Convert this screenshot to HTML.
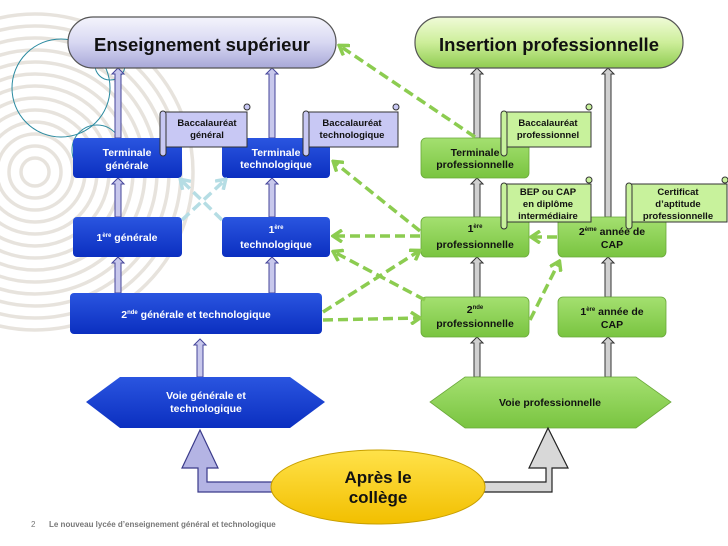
<!DOCTYPE html>
<html><head><meta charset="utf-8"><style>
html,body{margin:0;padding:0;background:#fff;}
svg{display:block;}
text{font-family:"Liberation Sans",sans-serif;font-weight:bold;}
</style></head><body>
<svg width="728" height="546" viewBox="0 0 728 546" xmlns="http://www.w3.org/2000/svg">
<defs>
<linearGradient id="pill1" x1="0" y1="0" x2="0" y2="1"><stop offset="0" stop-color="#f4f4fc"/><stop offset="0.5" stop-color="#d8d8f2"/><stop offset="1" stop-color="#a8a8d8"/></linearGradient>
<linearGradient id="pill2" x1="0" y1="0" x2="0" y2="1"><stop offset="0" stop-color="#f0fbd8"/><stop offset="0.5" stop-color="#cdee9a"/><stop offset="1" stop-color="#8fcc50"/></linearGradient>
<linearGradient id="blue" x1="0" y1="0" x2="0" y2="1"><stop offset="0" stop-color="#2a55e0"/><stop offset="1" stop-color="#0b2fc0"/></linearGradient>
<linearGradient id="green" x1="0" y1="0" x2="0" y2="1"><stop offset="0" stop-color="#a4e070"/><stop offset="1" stop-color="#79c440"/></linearGradient>
<linearGradient id="yel" x1="0" y1="0" x2="0" y2="1"><stop offset="0" stop-color="#ffe24a"/><stop offset="1" stop-color="#f2bf00"/></linearGradient>
<marker id="ag" markerWidth="12" markerHeight="14" refX="9" refY="7" orient="auto" markerUnits="userSpaceOnUse"><path d="M1,1 L10,7 L1,13" fill="none" stroke="#8ccc50" stroke-width="3.5"/></marker>
<marker id="ab" markerWidth="12" markerHeight="14" refX="9" refY="7" orient="auto" markerUnits="userSpaceOnUse"><path d="M1,1 L10,7 L1,13" fill="none" stroke="#b5dde4" stroke-width="3.5"/></marker>
</defs>

<!-- background circles -->
<g fill="none" stroke="#e2ddd5" stroke-width="3.5" opacity="0.8">
<circle cx="35" cy="172" r="14"/><circle cx="35" cy="172" r="26"/><circle cx="35" cy="172" r="38"/><circle cx="35" cy="172" r="50"/><circle cx="35" cy="172" r="62"/><circle cx="35" cy="172" r="74"/><circle cx="35" cy="172" r="86"/><circle cx="35" cy="172" r="98"/><circle cx="35" cy="172" r="110"/><circle cx="35" cy="172" r="122"/><circle cx="35" cy="172" r="134"/><circle cx="35" cy="172" r="146"/><circle cx="35" cy="172" r="158"/>
</g>
<g fill="none" stroke="#2a8aa0" stroke-width="1">
<circle cx="61" cy="88" r="49"/><circle cx="97" cy="150" r="25"/><circle cx="110" cy="65" r="15"/>
</g>

<!-- thin vertical arrows -->
<g stroke="#44449a" stroke-width="1">
<path d="M115,138 V74 H112 L118,68 L124,74 H121 V138 Z" fill="#c8c8ec"/>
<path d="M269,138 V74 H266 L272,68 L278,74 H275 V138 Z" fill="#c8c8ec"/>
<path d="M115,217 V184 H112 L118,178 L124,184 H121 V217 Z" fill="#c8c8ec"/>
<path d="M269,217 V184 H266 L272,178 L278,184 H275 V217 Z" fill="#c8c8ec"/>
<path d="M115,293 V263 H112 L118,257 L124,263 H121 V293 Z" fill="#c8c8ec"/>
<path d="M269,293 V263 H266 L272,257 L278,263 H275 V293 Z" fill="#c8c8ec"/>
<path d="M197,377 V345 H194 L200,339 L206,345 H203 V377 Z" fill="#c8c8ec"/>
</g>
<g stroke="#333" stroke-width="1" fill="#d0d0d0">
<path d="M474,138 V74 H471 L477,68 L483,74 H480 V138 Z"/>
<path d="M605,217 V74 H602 L608,68 L614,74 H611 V217 Z"/>
<path d="M474,217 V184 H471 L477,178 L483,184 H480 V217 Z"/>
<path d="M474,297 V263 H471 L477,257 L483,263 H480 V297 Z"/>
<path d="M605,297 V263 H602 L608,257 L614,263 H611 V297 Z"/>
<path d="M474,377 V343 H471 L477,337 L483,343 H480 V377 Z"/>
<path d="M605,377 V343 H602 L608,337 L614,343 H611 V377 Z"/>
</g>

<!-- pills -->
<rect x="68" y="17" width="268" height="51" rx="25" fill="url(#pill1)" stroke="#555" stroke-width="1.2"/>
<text x="202" y="51" font-size="18.5" text-anchor="middle" fill="#111">Enseignement supérieur</text>
<rect x="415" y="17" width="268" height="51" rx="25" fill="url(#pill2)" stroke="#555" stroke-width="1.2"/>
<text x="549" y="51" font-size="18.5" text-anchor="middle" fill="#111">Insertion professionnelle</text>

<!-- blue boxes -->
<g fill="url(#blue)">
<rect x="73" y="138" width="109" height="40" rx="4"/>
<rect x="222" y="138" width="108" height="40" rx="4"/>
<rect x="73" y="217" width="109" height="40" rx="4"/>
<rect x="222" y="217" width="108" height="40" rx="4"/>
<rect x="70" y="293" width="252" height="41" rx="4"/>
<path d="M120,377 H290 L325,402 L290,428 H120 L86,402 Z"/>
</g>
<g fill="#fff" font-size="10.5" text-anchor="middle">
<text x="127" y="156">Terminale</text><text x="127" y="169">générale</text>
<text x="276" y="156">Terminale</text><text x="276" y="168">technologique</text>
<text x="127" y="241">1<tspan font-size="6" dy="-4">ère</tspan><tspan dy="4"> générale</tspan></text>
<text x="276" y="233">1<tspan font-size="6" dy="-4">ère</tspan></text><text x="276" y="248">technologique</text>
<text x="196" y="318">2<tspan font-size="6" dy="-4">nde</tspan><tspan dy="4"> générale et technologique</tspan></text>
<text x="206" y="399">Voie générale et</text><text x="206" y="412">technologique</text>
</g>

<!-- green boxes -->
<g fill="url(#green)" stroke="#6aa83a" stroke-width="0.8">
<rect x="421" y="138" width="108" height="40" rx="5"/>
<rect x="421" y="217" width="108" height="40" rx="5"/>
<rect x="558" y="217" width="108" height="40" rx="5"/>
<rect x="421" y="297" width="108" height="40" rx="5"/>
<rect x="558" y="297" width="108" height="40" rx="5"/>
<path d="M465,377 H636 L671,402 L636,428 H465 L430,402 Z"/>
</g>
<g fill="#111" font-size="10.5" text-anchor="middle">
<text x="475" y="156">Terminale</text><text x="475" y="168">professionnelle</text>
<text x="475" y="232">1<tspan font-size="6" dy="-4">ère</tspan></text><text x="475" y="248">professionnelle</text>
<text x="612" y="235">2<tspan font-size="6" dy="-4">ème</tspan><tspan dy="4"> année de</tspan></text><text x="612" y="248">CAP</text>
<text x="475" y="313">2<tspan font-size="6" dy="-4">nde</tspan></text><text x="475" y="327">professionnelle</text>
<text x="612" y="315">1<tspan font-size="6" dy="-4">ère</tspan><tspan dy="4"> année de</tspan></text><text x="612" y="328">CAP</text>
<text x="550" y="406">Voie professionnelle</text>
</g>

<!-- dashed arrows -->
<g fill="none" stroke="#8ccc50" stroke-width="3.5" stroke-dasharray="10,5" marker-end="url(#ag)">
<path d="M475,137 L340,46"/>
<path d="M420,231 L334,162"/>
<path d="M420,236 L334,236"/>
<path d="M425,300 L334,252"/>
<path d="M323,312 L419,251"/>
<path d="M323,320 L419,318"/>
<path d="M557,237 L532,237"/>
<path d="M530,320 L559,262"/>
</g>
<g fill="none" stroke="#b5dde4" stroke-width="3.5" stroke-dasharray="10,5" marker-end="url(#ab)">
<path d="M182,220 L225,180"/>
<path d="M222,220 L181,180"/>
</g>

<!-- scrolls -->
<g stroke="#333" stroke-width="1">
<g fill="#c8c8f4">
<path d="M163,112 H247 V147 H163 Z"/><rect x="160" y="111" width="6" height="45" rx="3"/><circle cx="247" cy="107" r="3"/>
<path d="M306,112 H398 V147 H306 Z"/><rect x="303" y="111" width="6" height="45" rx="3"/><circle cx="396" cy="107" r="3"/>
</g>
<g fill="#c8f29c">
<path d="M504,112 H591 V147 H504 Z"/><rect x="501" y="111" width="6" height="45" rx="3"/><circle cx="589" cy="107" r="3"/>
<path d="M504,184 H591 V222 H504 Z"/><rect x="501" y="183" width="6" height="46" rx="3"/><circle cx="589" cy="180" r="3"/>
<path d="M629,184 H727 V222 H629 Z"/><rect x="626" y="183" width="6" height="46" rx="3"/><circle cx="725" cy="180" r="3"/>
</g>
</g>
<g fill="#111" font-size="9.5" text-anchor="middle">
<text x="207" y="126">Baccalauréat</text><text x="207" y="138">général</text>
<text x="352" y="126">Baccalauréat</text><text x="352" y="138">technologique</text>
<text x="548" y="126">Baccalauréat</text><text x="548" y="138">professionnel</text>
<text x="548" y="195">BEP ou CAP</text><text x="548" y="207">en diplôme</text><text x="548" y="219">intermédiaire</text>
<text x="678" y="195">Certificat</text><text x="678" y="207">d’aptitude</text><text x="678" y="219">professionnelle</text>
</g>

<!-- big arrows -->
<path d="M280,482 H207 V468 H218 L200,430 L182,468 H198 V492 H280 Z" fill="#b4b4e4" stroke="#3a3a8a" stroke-width="1.2"/>
<path d="M475,482 H546 V468 H529 L548,428 L568,468 H552 V492 H475 Z" fill="#d8d8d8" stroke="#222" stroke-width="1.2"/>
<ellipse cx="378" cy="487" rx="107" ry="37" fill="url(#yel)" stroke="#c9a000" stroke-width="1"/>
<g fill="#111" font-size="17" text-anchor="middle"><text x="378" y="483">Après le</text><text x="378" y="503">collège</text></g>

<text x="31" y="527" font-size="8" fill="#777" style="font-weight:normal">2</text>
<text x="49" y="527" font-size="8" fill="#777">Le nouveau lycée d’enseignement général et technologique</text>
</svg>
</body></html>
